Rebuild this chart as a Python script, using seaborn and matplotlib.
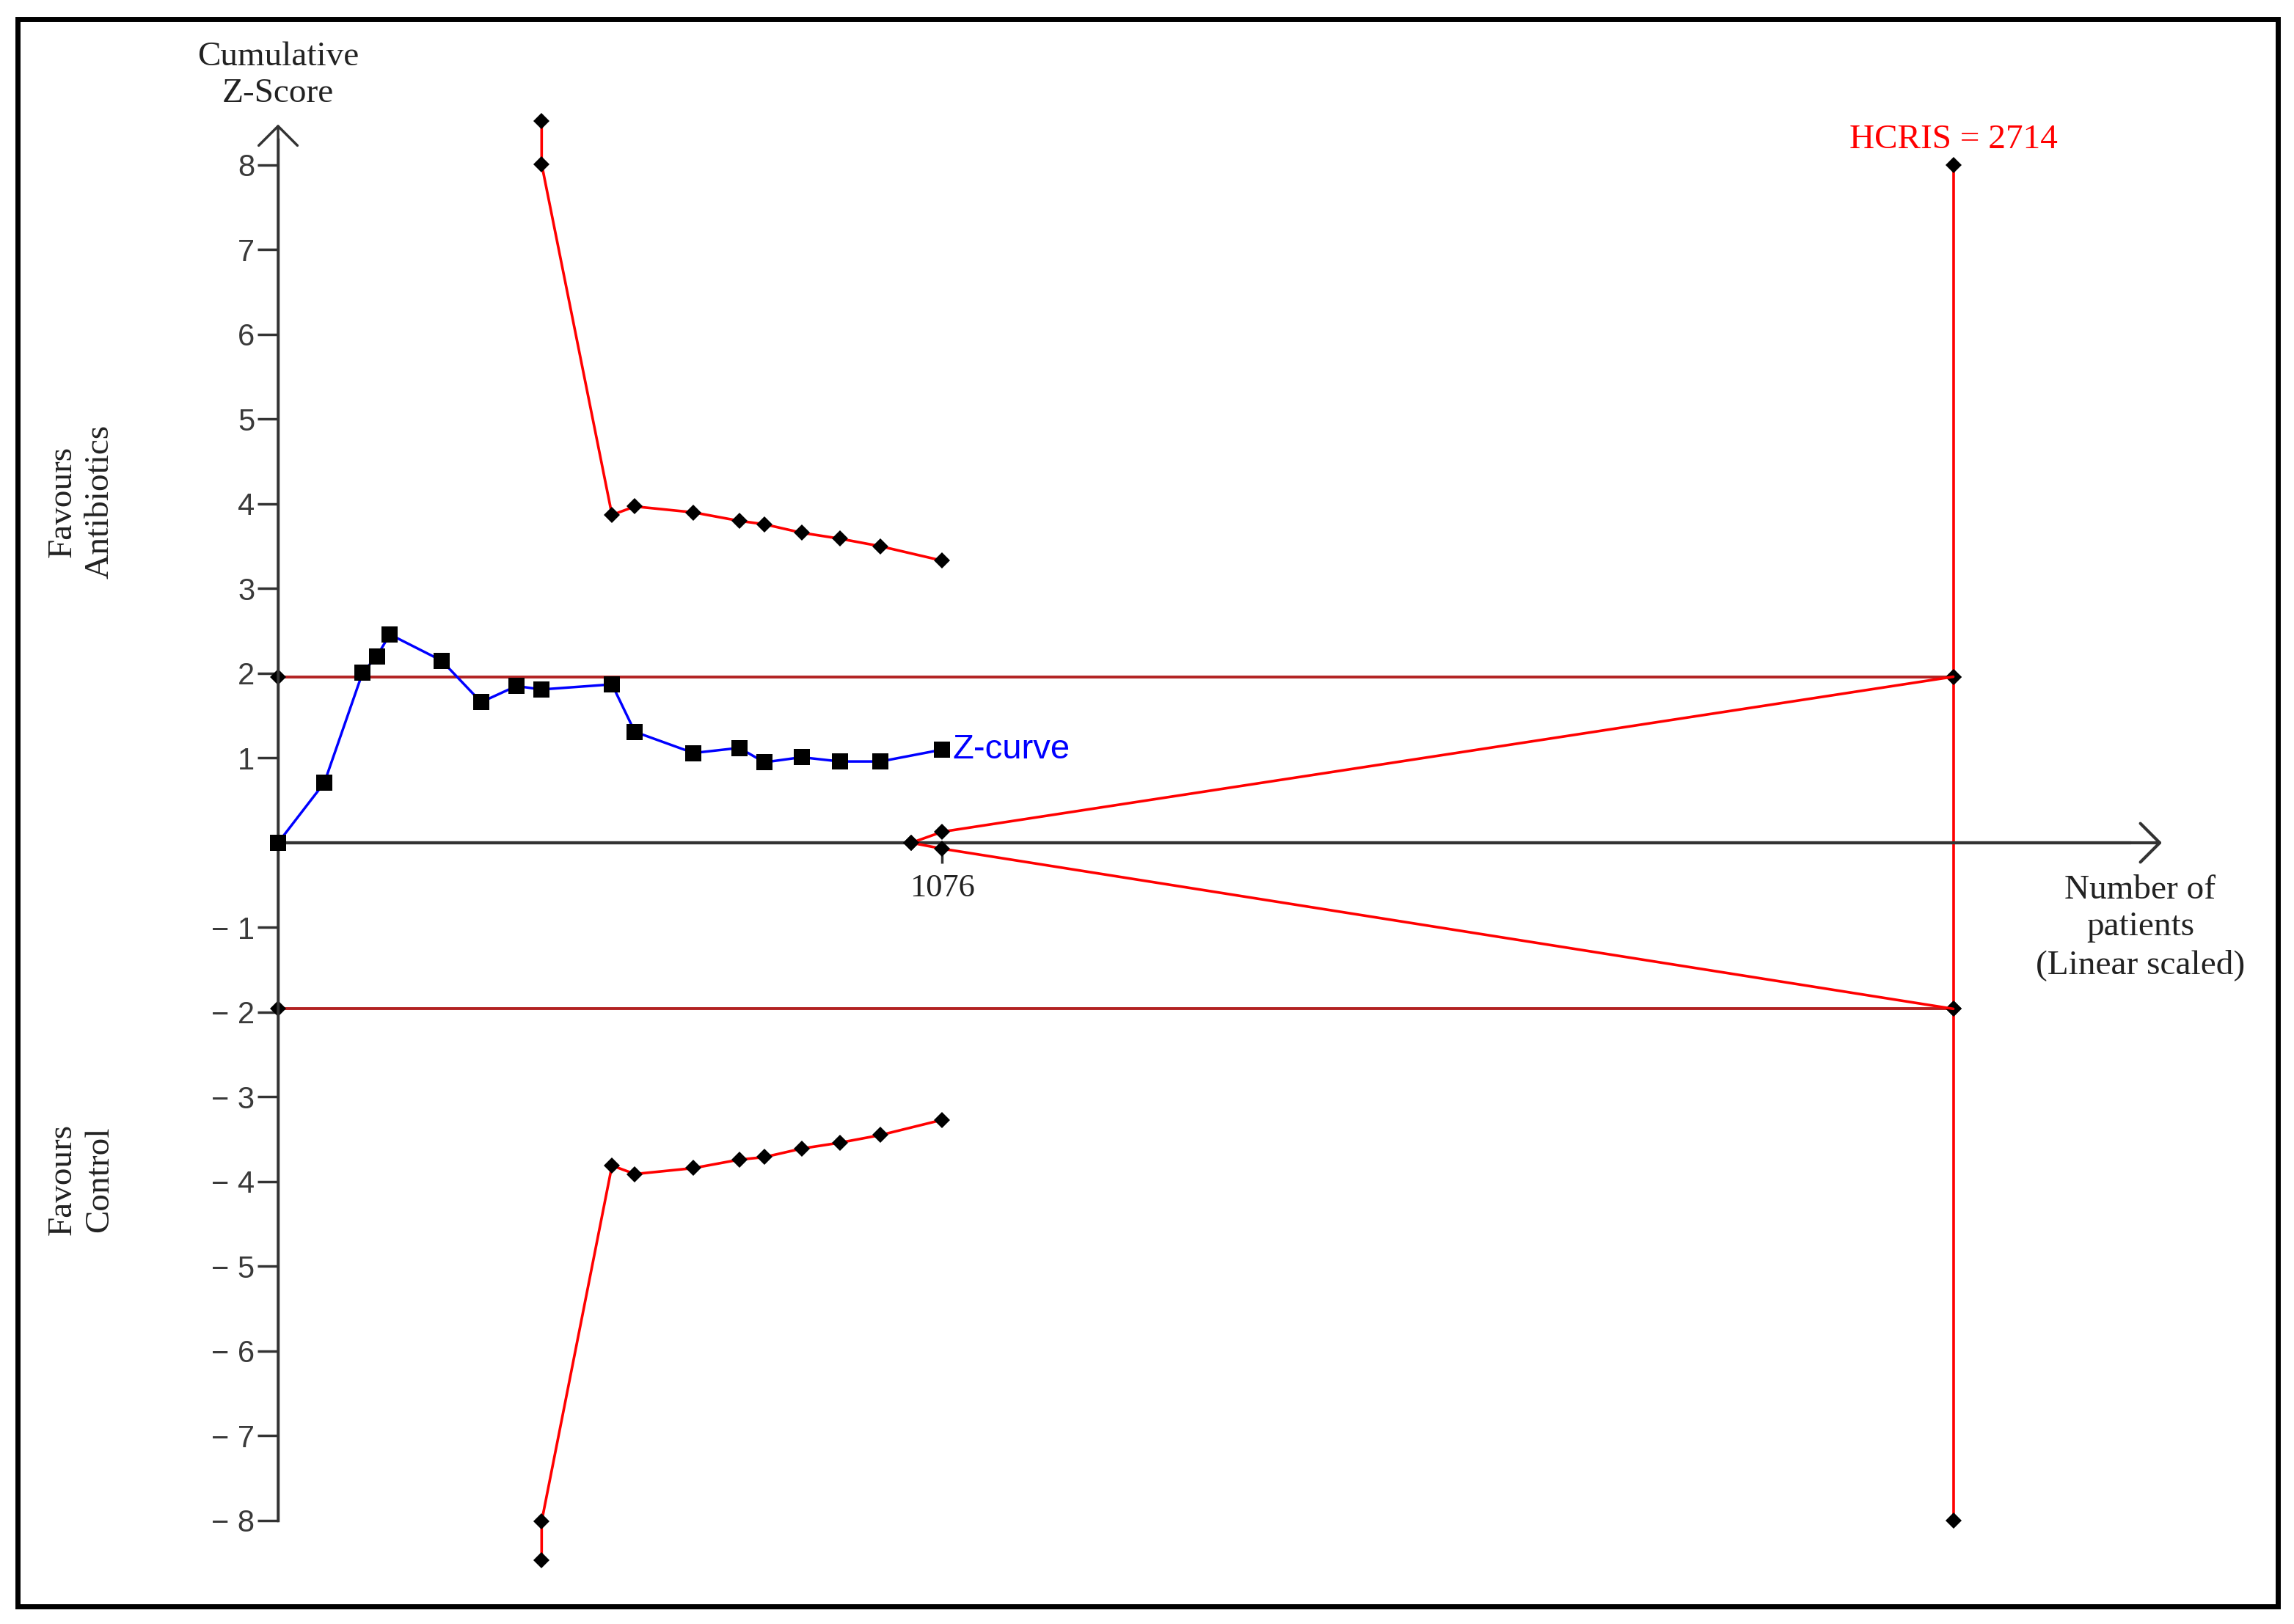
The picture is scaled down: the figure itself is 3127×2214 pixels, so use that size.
import matplotlib
matplotlib.use("Agg")
import matplotlib.pyplot as plt
import seaborn as sns
from matplotlib.patches import Rectangle

# Z-curve (cumulative number of patients, cumulative z-score)
zcurve_n = [0, 75, 137, 160, 181, 265, 329, 386, 427, 541, 578, 673, 747, 788, 848, 910, 976, 1076]
zcurve_z = [0, 0.71, 2.01, 2.20, 2.46, 2.15, 1.66, 1.85, 1.81, 1.87, 1.31, 1.06, 1.12, 0.95, 1.01, 0.96, 0.96, 1.10]

# monitoring boundaries
bound_n = [427, 427, 541, 578, 673, 747, 788, 848, 910, 976, 1076]
upper_z = [8.52, 8.01, 3.87, 3.97, 3.90, 3.80, 3.76, 3.66, 3.59, 3.50, 3.33]
lower_z = [-8.47, -8.01, -3.81, -3.91, -3.84, -3.74, -3.71, -3.61, -3.54, -3.45, -3.27]

# futility wedge
fut_n = [1026, 1076, 2714]
fut_upper = [0, 0.13, 1.96]
fut_lower = [0, -0.07, -1.96]

conv_z = 1.96
hcris = 2714
hcris_z = [8, 1.96, -1.96, -8]
x_tick = 1076
y_ticks = [t for t in range(-8, 9) if t != 0]

sns.set_style("white")
plt.rcParams['font.family'] = ['Liberation Serif', 'DejaVu Serif']

fig = plt.figure(figsize=(31.27, 22.14), dpi=100)
ax = fig.add_axes([0, 0, 1, 1])
ax.set_xlim(-450.5, 3266)
ax.set_ylim(-9.221, 9.948)

axis_col = '#333333'
red = '#ff0000'
dark_red = '#b22222'
diam = dict(marker='D', markersize=11.5, markerfacecolor='black', markeredgecolor='black', markeredgewidth=0)

# conventional boundaries +-1.96
for z in (conv_z, -conv_z):
    sns.lineplot(x=[0, hcris], y=[z, z], ax=ax, color=dark_red, lw=2.8,
                 estimator=None, sort=False, **diam)

# required information size line
sns.lineplot(x=[hcris] * len(hcris_z), y=hcris_z, ax=ax, color=red, lw=2.6,
             estimator=None, sort=False, zorder=3, **diam)

# futility wedge
for fz in (fut_upper, fut_lower):
    sns.lineplot(x=fut_n, y=fz, ax=ax, color=red, lw=2.6, estimator=None, sort=False,
                 markevery=[0, 1], zorder=4, **diam)

# monitoring boundaries
for bz in (upper_z, lower_z):
    sns.lineplot(x=bound_n, y=bz, ax=ax, color=red, lw=2.6, estimator=None, sort=False,
                 zorder=4, **diam)

# z-curve
sns.lineplot(x=zcurve_n, y=zcurve_z, ax=ax, color='#0000ff', lw=2.5, estimator=None, sort=False,
             marker='s', markersize=15.5, markerfacecolor='black', markeredgecolor='black',
             markeredgewidth=0, zorder=5)

# axes with arrows
for s in ('top', 'right'):
    ax.spines[s].set_visible(False)
ax.spines['left'].set_position(('data', 0))
ax.spines['bottom'].set_position(('data', 0))
ax.spines['left'].set_bounds(-8, 8.3)
ax.spines['bottom'].set_bounds(0, 3000)
ax.spines['left'].set_color(axis_col)
ax.spines['bottom'].set_color(axis_col)
ax.spines['left'].set_linewidth(2.5)
ax.spines['bottom'].set_linewidth(3)
ax.spines['left'].set_zorder(2)
ax.spines['bottom'].set_zorder(2)

arrow = dict(arrowstyle='->,head_length=1,head_width=1', color=axis_col,
             mutation_scale=19, shrinkA=0, shrinkB=0)
ax.annotate('', xy=(0, 8.48), xytext=(0, -8), arrowprops=dict(lw=2.5, **arrow))
ax.annotate('', xy=(3052, 0), xytext=(0, 0), arrowprops=dict(lw=3, **arrow))

ax.set_yticks(y_ticks)
ax.set_yticklabels([str(t).replace('-', '\u2212 ') for t in y_ticks])
ax.set_xticks([x_tick])
ax.set_xticklabels([str(x_tick)])
ax.tick_params(axis='y', direction='out', length=20, width=2.5, color=axis_col, pad=3,
               labelsize=30, labelcolor='#3a3a3a', left=True)
ax.tick_params(axis='x', direction='out', length=20, width=2.5, color=axis_col, pad=10,
               labelsize=32, labelcolor='#222222', bottom=True)
for lbl in ax.get_yticklabels():
    lbl.set_fontfamily(['Liberation Sans', 'DejaVu Sans'])
ax.set_xlabel('')
ax.set_ylabel('')

# texts
txt = dict(fontsize=34, color='#222222', ha='center', va='center', linespacing=1.25)
ax.text(0, 9.06, 'Cumulative\nZ-Score', **txt)
ax.text(3017, -1.0, 'Number of\npatients\n(Linear scaled)', **txt)
ax.text(-319, 4.03, 'Favours\nAntibiotics', rotation=90, **txt)
ax.text(-319, -3.97, 'Favours\nControl', rotation=90, **txt)
ax.text(hcris, 8.3, 'HCRIS = 2714', fontsize=34, color=red, ha='center', va='center')
ax.text(1093, zcurve_z[-1], 'Z-curve', fontsize=34, color='#0000ff', ha='left', va='center',
        family=['Liberation Sans', 'DejaVu Sans'])

# outer frame
fig.patches.append(Rectangle((24 / 3127, 24 / 2214), 3081 / 3127, 2164 / 2214,
                             transform=fig.transFigure, fill=False, lw=5, edgecolor='black'))

fig.savefig('out.png', dpi=100)
